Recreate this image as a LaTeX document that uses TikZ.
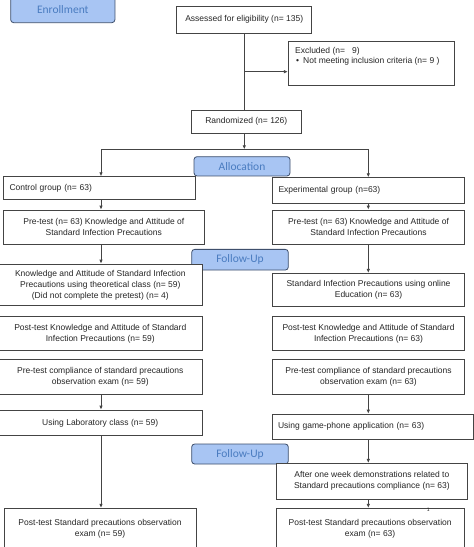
\documentclass[tikz,border=0pt]{standalone}
\usepackage{fontspec}
\setmainfont{Liberation Sans}
\newfontfamily\labfont{Carlito}
\usetikzlibrary{arrows.meta}
\definecolor{lblfill}{HTML}{A8C5F3}
\definecolor{lbldraw}{HTML}{3E4F6C}
\definecolor{lbltext}{HTML}{4A7CC0}
\definecolor{boxdraw}{HTML}{444444}
\definecolor{txt}{HTML}{262626}
\begin{document}
\begin{tikzpicture}[x=1pt,y=-1pt,
  box/.style={draw=boxdraw,line width=0.8pt,fill=white,inner sep=0pt,align=center,
    text=txt,font=\fontsize{8.5}{11}\selectfont},
  lbl/.style={draw=lbldraw,line width=0.8pt,fill=lblfill,rounded corners=3pt,inner sep=0pt,
    text=lbltext,font=\labfont\fontsize{11.5}{13}\selectfont},
  conn/.style={draw=boxdraw,line width=0.8pt},
  arr/.style={conn,-{Latex[length=4pt,width=3.5pt]}}]
\useasboundingbox (0,0) rectangle (474,547);
\fill[white] (0,0) rectangle (474,547);

% enrollment section
\node[lbl,minimum width=104.3pt,minimum height=25.7pt] (enroll) at (62.8,9.8) {Enrollment};
\node[box,minimum width=135pt,minimum height=27.3pt] (assess) at (244.2,19.7) {Assessed for eligibility (n= 135)};
\node[box,minimum width=166pt,minimum height=44.7pt] (excl) at (371.3,63.3) {};
\node[anchor=north west,inner sep=0pt,align=left,text=txt,font=\fontsize{8.5}{11}\selectfont] (excltxt) at (295,47)
  {Excluded (n=\ \ \ 9)\\[-0.5pt]\hspace*{1pt}\textbullet\hspace{4pt}Not meeting inclusion criteria (n= 9 )};
\node[box,minimum width=109.3pt,minimum height=23.3pt] (rand) at (246.3,121.7) {Randomized (n= 126)};

\coordinate (exj) at (244.3,71.7);
\coordinate (split) at (244.3,149.3);
\coordinate (splitL) at (101,149.3);
\coordinate (splitR) at (368.3,149.3);

% allocation
\node[lbl,minimum width=96pt,minimum height=19.3pt] (alloc) at (242,166.3) {Allocation};
\node[box,minimum width=192.4pt,minimum height=22.6pt,text width=180pt,align=left] (ctrl) at (99.5,188) {Control group (n= 63)};
\node[box,minimum width=191.6pt,minimum height=25.6pt,text width=180pt,align=left] (expg) at (368.5,190.5) {Experimental group (n=63)};
\node[box,minimum width=201pt,minimum height=34pt] (preC) at (103.8,227) {Pre-test (n= 63) Knowledge and Attitude of\\Standard Infection Precautions};
\node[box,minimum width=191.6pt,minimum height=34pt] (preE) at (368.5,227) {Pre-test (n= 63) Knowledge and Attitude of\\Standard Infection Precautions};

% follow-up 1
\node[lbl,minimum width=96.6pt,minimum height=20.7pt] (fu1) at (240,259.7) {Follow-Up};
\node[box,minimum width=204.7pt,minimum height=41.7pt] (knowC) at (100.3,284.9) {Knowledge and Attitude of Standard Infection\\Precautions using theoretical class (n= 59)\\(Did not complete the pretest) (n= 4)};
\node[box,minimum width=191.6pt,minimum height=33.4pt] (onlE) at (368.5,290) {Standard Infection Precautions using online\\Education (n= 63)};
\node[box,minimum width=204.7pt,minimum height=34pt] (postC) at (100.3,333.7) {Post-test Knowledge and Attitude of Standard\\Infection Precautions (n= 59)};
\node[box,minimum width=191.6pt,minimum height=34pt] (postE) at (368.5,333.7) {Post-test Knowledge and Attitude of Standard\\Infection Precautions (n= 63)};
\node[box,minimum width=204.7pt,minimum height=34.7pt] (cmpC) at (100.3,376.7) {Pre-test compliance of standard precautions\\observation exam (n= 59)};
\node[box,minimum width=191.6pt,minimum height=34.7pt] (cmpE) at (368.5,376.7) {Pre-test compliance of standard precautions\\observation exam (n= 63)};
\node[box,minimum width=204.3pt,minimum height=25.7pt] (labC) at (100.2,422.9) {Using Laboratory class (n= 59)};
\node[box,minimum width=200.6pt,minimum height=25.3pt,text width=190pt,align=left] (gameE) at (373,426.7) {Using game-phone application (n= 63)};

% follow-up 2
\node[lbl,minimum width=96.6pt,minimum height=20pt] (fu2) at (240,454) {Follow-Up};
\node[box,minimum width=191.7pt,minimum height=35.7pt] (weekE) at (371.85,481.2) {After one week demonstrations related to\\Standard precautions compliance (n= 63)};
\node[box,minimum width=192pt,minimum height=40pt] (finC) at (100,528.3) {Post-test Standard precautions observation\\exam (n= 59)};
\node[box,minimum width=188.3pt,minimum height=40pt] (finE) at (370.15,528.3) {Post-test Standard precautions observation\\exam (n= 63)};
\node[inner sep=0pt,text=txt,font=\fontsize{5}{6}\selectfont] (one) at (428.3,509.5) {1};

% connectors
\draw[conn] (assess.south -| exj) -- (rand.north -| exj);
\draw[arr] (exj) -- (exj -| excl.west);
\draw[arr] (rand.south -| split) -- (split);
\draw[conn] (splitL) -- (splitR);
\draw[arr] (splitL) -- (ctrl.north -| splitL);
\draw[arr] (splitR) -- (expg.north -| splitR);
\draw[arr] (ctrl.south -| splitL) -- (preC.north -| splitL);
\draw[arr] (preC.south -| splitL) -- (knowC.north -| splitL);
\draw[arr] (expg.south -| splitR) -- (preE.north -| splitR);
\draw[arr] (preE.south -| splitR) -- (onlE.north -| splitR);
\draw[arr] (cmpC.south -| splitL) -- (labC.north -| splitL);
\draw[arr] (labC.south -| splitL) -- (finC.north -| splitL);
\draw[arr] (cmpE.south -| splitR) -- (gameE.north -| splitR);
\draw[arr] (gameE.south -| splitR) -- (weekE.north -| splitR);
\draw[arr] (weekE.south -| splitR) -- (finE.north -| splitR);
\end{tikzpicture}
\end{document}
